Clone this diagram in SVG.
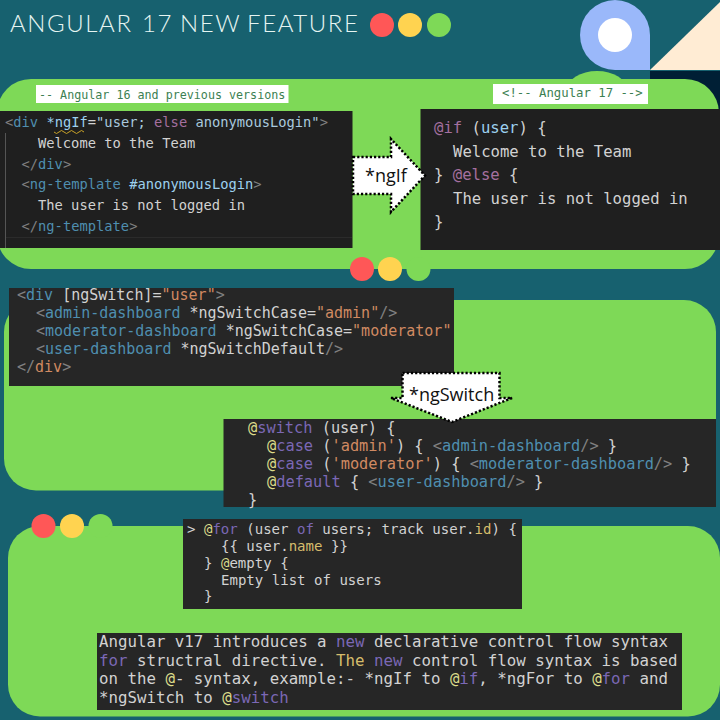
<svg xmlns="http://www.w3.org/2000/svg" width="720" height="720" viewBox="0 0 720 720">
<style>
.panel{fill:#7ed957}
.code{fill:#1f1f1f}
.m{font-family:"DejaVu Sans Mono","Liberation Mono",monospace;fill:#d2d2d2;white-space:pre}
.a{font-size:13.75px}.b{font-size:15.6px}.c{font-size:15px}.d{font-size:15.3px}.e{font-size:14.05px}.f{font-size:15.75px}
.g{fill:#808080}.t{fill:#4f8fb0}.s{fill:#a9c9de}.k{fill:#a5709f}.o{fill:#d08a62}.y{fill:#dcdc8b}.p{fill:#7b68b5}.u{fill:#9cd0ee}.n{fill:#d6bd6c}
.r{fill:#ff5757}.w{fill:#ffd350}.h{fill:#7ed957}
.lbl{fill:#fff}
.lt{font-family:"DejaVu Sans Mono",monospace;fill:#3c7f52}
.arrow{fill:#fff;stroke:#000;stroke-width:2.5;stroke-dasharray:2.2 2}
.al{font-family:"Open Sans","Noto Sans",sans-serif;fill:#111}
</style>
<rect width="720" height="720" fill="#17616f"/>
<g id="title"><text y="32" font-family="Lato,'Open Sans',sans-serif" font-weight="300" font-size="24" letter-spacing="1.6" fill="#e6f5f2"><tspan x="10">ANGULAR</tspan> <tspan x="142">17</tspan> <tspan x="180">NEW</tspan> <tspan x="247">FEATURE</tspan></text></g>
<g id="decor">
<path d="M650 70H615A35 35 0 1 1 650 35Z" fill="#9ab8fa"/>
<circle cx="615" cy="35" r="17" fill="#fff"/>
<path d="M650 70L720 2V70Z" fill="#ffecd4"/>
<rect x="650" y="71" width="70" height="40" fill="#001f35"/>
<ellipse cx="597" cy="90" rx="30" ry="19" class="panel"/>
</g>
<g id="panel-1"><rect x="-3" y="79" width="722" height="190" rx="34" class="panel"/></g>
<g id="panel-2"><rect x="4" y="300" width="712" height="190.500" rx="32" class="panel"/></g>
<g id="panel-3"><rect x="8" y="526" width="712" height="190.500" rx="32" class="panel"/></g>
<g id="dots-1"><circle cx="382" cy="25" r="12" class="r"/><circle cx="410" cy="25" r="12" class="w"/><circle cx="439" cy="25" r="12" class="h"/></g>
<g id="dots-2"><circle cx="362" cy="269" r="12" class="r"/><circle cx="390" cy="269" r="12" class="w"/><circle cx="418.500" cy="269" r="12" class="h"/></g>
<g id="dots-3"><circle cx="100.500" cy="526" r="12" class="h"/><circle cx="43.500" cy="526" r="12" class="r"/><circle cx="72" cy="526" r="12" class="w"/></g>
<g id="label-16"><rect x="36" y="85" width="252.500" height="18" class="lbl"/><text x="39" y="99" class="lt" font-size="11.7">-- Angular 16 and previous versions</text></g>
<g id="label-17"><rect x="493" y="84" width="155" height="20" class="lbl"/><text x="502" y="97" class="lt" font-size="12.3">&lt;!-- Angular 17 --&gt;</text></g>
<g id="code-ngif">
<rect x="0" y="111" width="352.500" height="137" class="code"/>
<rect x="5" y="133" width="1" height="115" fill="#555"/>
<rect x="6" y="237" width="346" height="1" fill="#2b2b2b"/>
<path d="M54 132q2.500 3 5 0t5 0t5 0t5 0t5 0t5 0" fill="none" stroke="#c9a227" stroke-width="1"/>
<text x="5" y="127" class="m a"><tspan class="g">&lt;</tspan><tspan class="t">div</tspan> <tspan class="u">*ngIf</tspan>=<tspan class="s">"user; </tspan><tspan class="k">else</tspan><tspan class="s"> anonymousLogin"</tspan><tspan class="g">&gt;</tspan></text>
<text x="38" y="148" class="m a">Welcome to the Team</text>
<text x="21.500" y="168.500" class="m a"><tspan class="g">&lt;/</tspan><tspan class="t">div</tspan><tspan class="g">&gt;</tspan></text>
<text x="21.500" y="189" class="m a"><tspan class="g">&lt;</tspan><tspan class="t">ng-template</tspan> <tspan class="u">#anonymousLogin</tspan><tspan class="g">&gt;</tspan></text>
<text x="38" y="210" class="m a">The user is not logged in</text>
<text x="21.500" y="230.500" class="m a"><tspan class="g">&lt;/</tspan><tspan class="t">ng-template</tspan><tspan class="g">&gt;</tspan></text>
</g>
<g id="code-if">
<rect x="420.500" y="109" width="299.500" height="141" class="code"/>
<text x="434" y="133" class="m b"><tspan class="k">@if</tspan> (<tspan class="u">user</tspan>) {</text>
<text x="453" y="156.500" class="m b">Welcome to the Team</text>
<text x="434" y="180" class="m b">} <tspan class="k">@else</tspan> {</text>
<text x="453" y="203.500" class="m b">The user is not logged in</text>
<text x="434" y="227" class="m b">}</text>
</g>
<g id="code-ngswitch">
<rect x="9" y="288" width="445" height="98" fill="#262626"/>
<text x="17" y="300" class="m c"><tspan class="g">&lt;</tspan><tspan class="t">div</tspan> [ngSwitch]=<tspan class="o">"user"</tspan><tspan class="g">&gt;</tspan></text>
<text x="36" y="318" class="m c"><tspan class="g">&lt;</tspan><tspan class="t">admin-dashboard</tspan> *ngSwitchCase=<tspan class="o">"admin"</tspan><tspan class="g">/&gt;</tspan></text>
<text x="36" y="336" class="m c"><tspan class="g">&lt;</tspan><tspan class="t">moderator-dashboard</tspan> *ngSwitchCase=<tspan class="o">"moderator"</tspan></text>
<text x="36" y="354" class="m c"><tspan class="g">&lt;</tspan><tspan class="t">user-dashboard</tspan> *ngSwitchDefault<tspan class="g">/&gt;</tspan></text>
<text x="17" y="372" class="m c"><tspan class="g">&lt;/</tspan><tspan class="o">div</tspan><tspan class="g">&gt;</tspan></text>
</g>
<g id="code-switch">
<rect x="223.500" y="419" width="492.500" height="88" fill="#262626"/>
<text x="248" y="433" class="m d"><tspan class="y">@</tspan><tspan class="p">switch</tspan> (user) {</text>
<text x="267" y="451" class="m d"><tspan class="y">@</tspan><tspan class="p">case</tspan> (<tspan class="o">'admin'</tspan>) { <tspan class="g">&lt;</tspan><tspan class="t">admin-dashboard</tspan><tspan class="g">/&gt;</tspan> }</text>
<text x="267" y="469" class="m d"><tspan class="y">@</tspan><tspan class="p">case</tspan> (<tspan class="o">'moderator'</tspan>) { <tspan class="g">&lt;</tspan><tspan class="t">moderator-dashboard</tspan><tspan class="g">/&gt;</tspan> }</text>
<text x="267" y="487" class="m d"><tspan class="y">@</tspan><tspan class="p">default</tspan> { <tspan class="g">&lt;</tspan><tspan class="t">user-dashboard</tspan><tspan class="g">/&gt;</tspan> }</text>
<text x="248" y="505" class="m d">}</text>
</g>
<g id="code-for">
<rect x="183" y="519" width="339" height="90" fill="#262626"/>
<text x="187" y="534" class="m e">&gt; <tspan class="y">@</tspan><tspan class="p">for</tspan> (user <tspan class="p">of</tspan> users; track user.<tspan class="n">id</tspan>) {</text>
<text x="221" y="551" class="m e">{{ user.<tspan class="n">name</tspan> }}</text>
<text x="204" y="568" class="m e">} <tspan class="y">@</tspan>empty {</text>
<text x="221" y="585" class="m e">Empty list of users</text>
<text x="204" y="601" class="m e">}</text>
</g>
<g id="code-note">
<rect x="97" y="633" width="585" height="77" fill="#262626"/>
<text x="99" y="647" class="m f">Angular v17 introduces a <tspan class="p">new</tspan> declarative control flow syntax</text>
<text x="99" y="665.500" class="m f"><tspan class="p">for</tspan> structral directive. <tspan class="n">The</tspan> <tspan class="p">new</tspan> control flow syntax is based</text>
<text x="99" y="684" class="m f">on the <tspan class="y">@</tspan>- syntax, example:- *ngIf to <tspan class="y">@</tspan><tspan class="p">if</tspan>, *ngFor to <tspan class="y">@</tspan><tspan class="p">for</tspan> and</text>
<text x="99" y="702.500" class="m f">*ngSwitch to <tspan class="y">@</tspan><tspan class="p">switch</tspan></text>
</g>
<g id="connectors">
<path d="M353 157H391V139L425 175.500L391 212V194H353Z" class="arrow"/>
<text x="365" y="182" class="al" font-size="18">*ngIf</text>
<path d="M402.500 373H499.500V398H512L452 422L391 398H402.500Z" class="arrow"/>
<text x="409" y="401" class="al" font-size="18">*ngSwitch</text>
</g>
</svg>
